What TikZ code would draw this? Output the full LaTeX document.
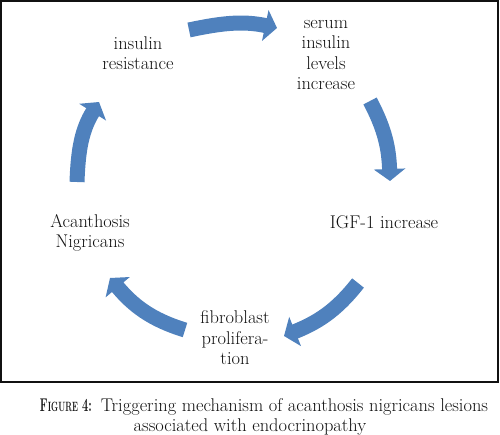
\documentclass[tikz,border=0pt]{standalone}
\usetikzlibrary{arrows.meta,positioning}
\definecolor{ink}{HTML}{111111}
\definecolor{cycblue}{HTML}{4F81BD}
\newcommand{\figsc}{\fontsize{13.5}{16}\selectfont}
\tikzset{
  every node/.style={font=\fontsize{18.5}{20.5}\selectfont, text=ink},
  lbl/.style={align=center, inner sep=0pt},
  cyc/.style={draw=cycblue, line width=15bp, -{Triangle[length=12bp, width=31bp]}},
  frame/.style={draw=ink, line width=1.2bp},
  captxt/.style={inner sep=0pt},
}

\begin{document}
\begin{tikzpicture}[x=1bp, y=1bp]
\useasboundingbox (0,0) rectangle (500,435);

\draw[frame] (1,434) rectangle (498,53);

% cycle labels
\node[lbl] (ires)  at (138,382) {insulin\\resistance};
\node[lbl] (serum) at (326,380) {serum\\insulin\\levels\\increase};
\node[lbl] (igf)   at (384,213) {IGF-1 increase};
\node[lbl] (fibro) at (235,97)  {fibroblast\\prolifera-\\tion};
\node[lbl] (acan)  at (90,202)  {Acanthosis\\Nigricans};

% arrow ends
\coordinate (ires-out)  at (189,405);
\coordinate (serum-in)  at (277,407);
\coordinate (serum-out) at (370,334);
\coordinate (igf-in)    at (390,254);
\coordinate (igf-out)   at (358,152);
\coordinate (fibro-in)  at (284,99);
\coordinate (fibro-out) at (185,105);
\coordinate (acan-in)   at (110,157);
\coordinate (acan-out)  at (77,253);
\coordinate (ires-in)   at (99,333);

\draw[cyc] (ires-out)  to[out=12,  in=168] (serum-in);
\draw[cyc] (serum-out) to[out=-62, in=92]  (igf-in);
\draw[cyc] (igf-out)   to[out=232, in=22]  (fibro-in);
\draw[cyc] (fibro-out) to[out=163, in=-50] (acan-in);
\draw[cyc] (acan-out)  to[out=88,  in=-122] (ires-in);

% caption
\node[captxt] (cap1) at (264,28) {\scalebox{0.6}[1]{\bfseries F{\figsc IGURE} 4:}\hspace{9bp}Triggering mechanism of acanthosis nigricans lesions};
\node[captxt] (cap2) at (250,8) {associated with endocrinopathy};

\end{tikzpicture}
\end{document}
